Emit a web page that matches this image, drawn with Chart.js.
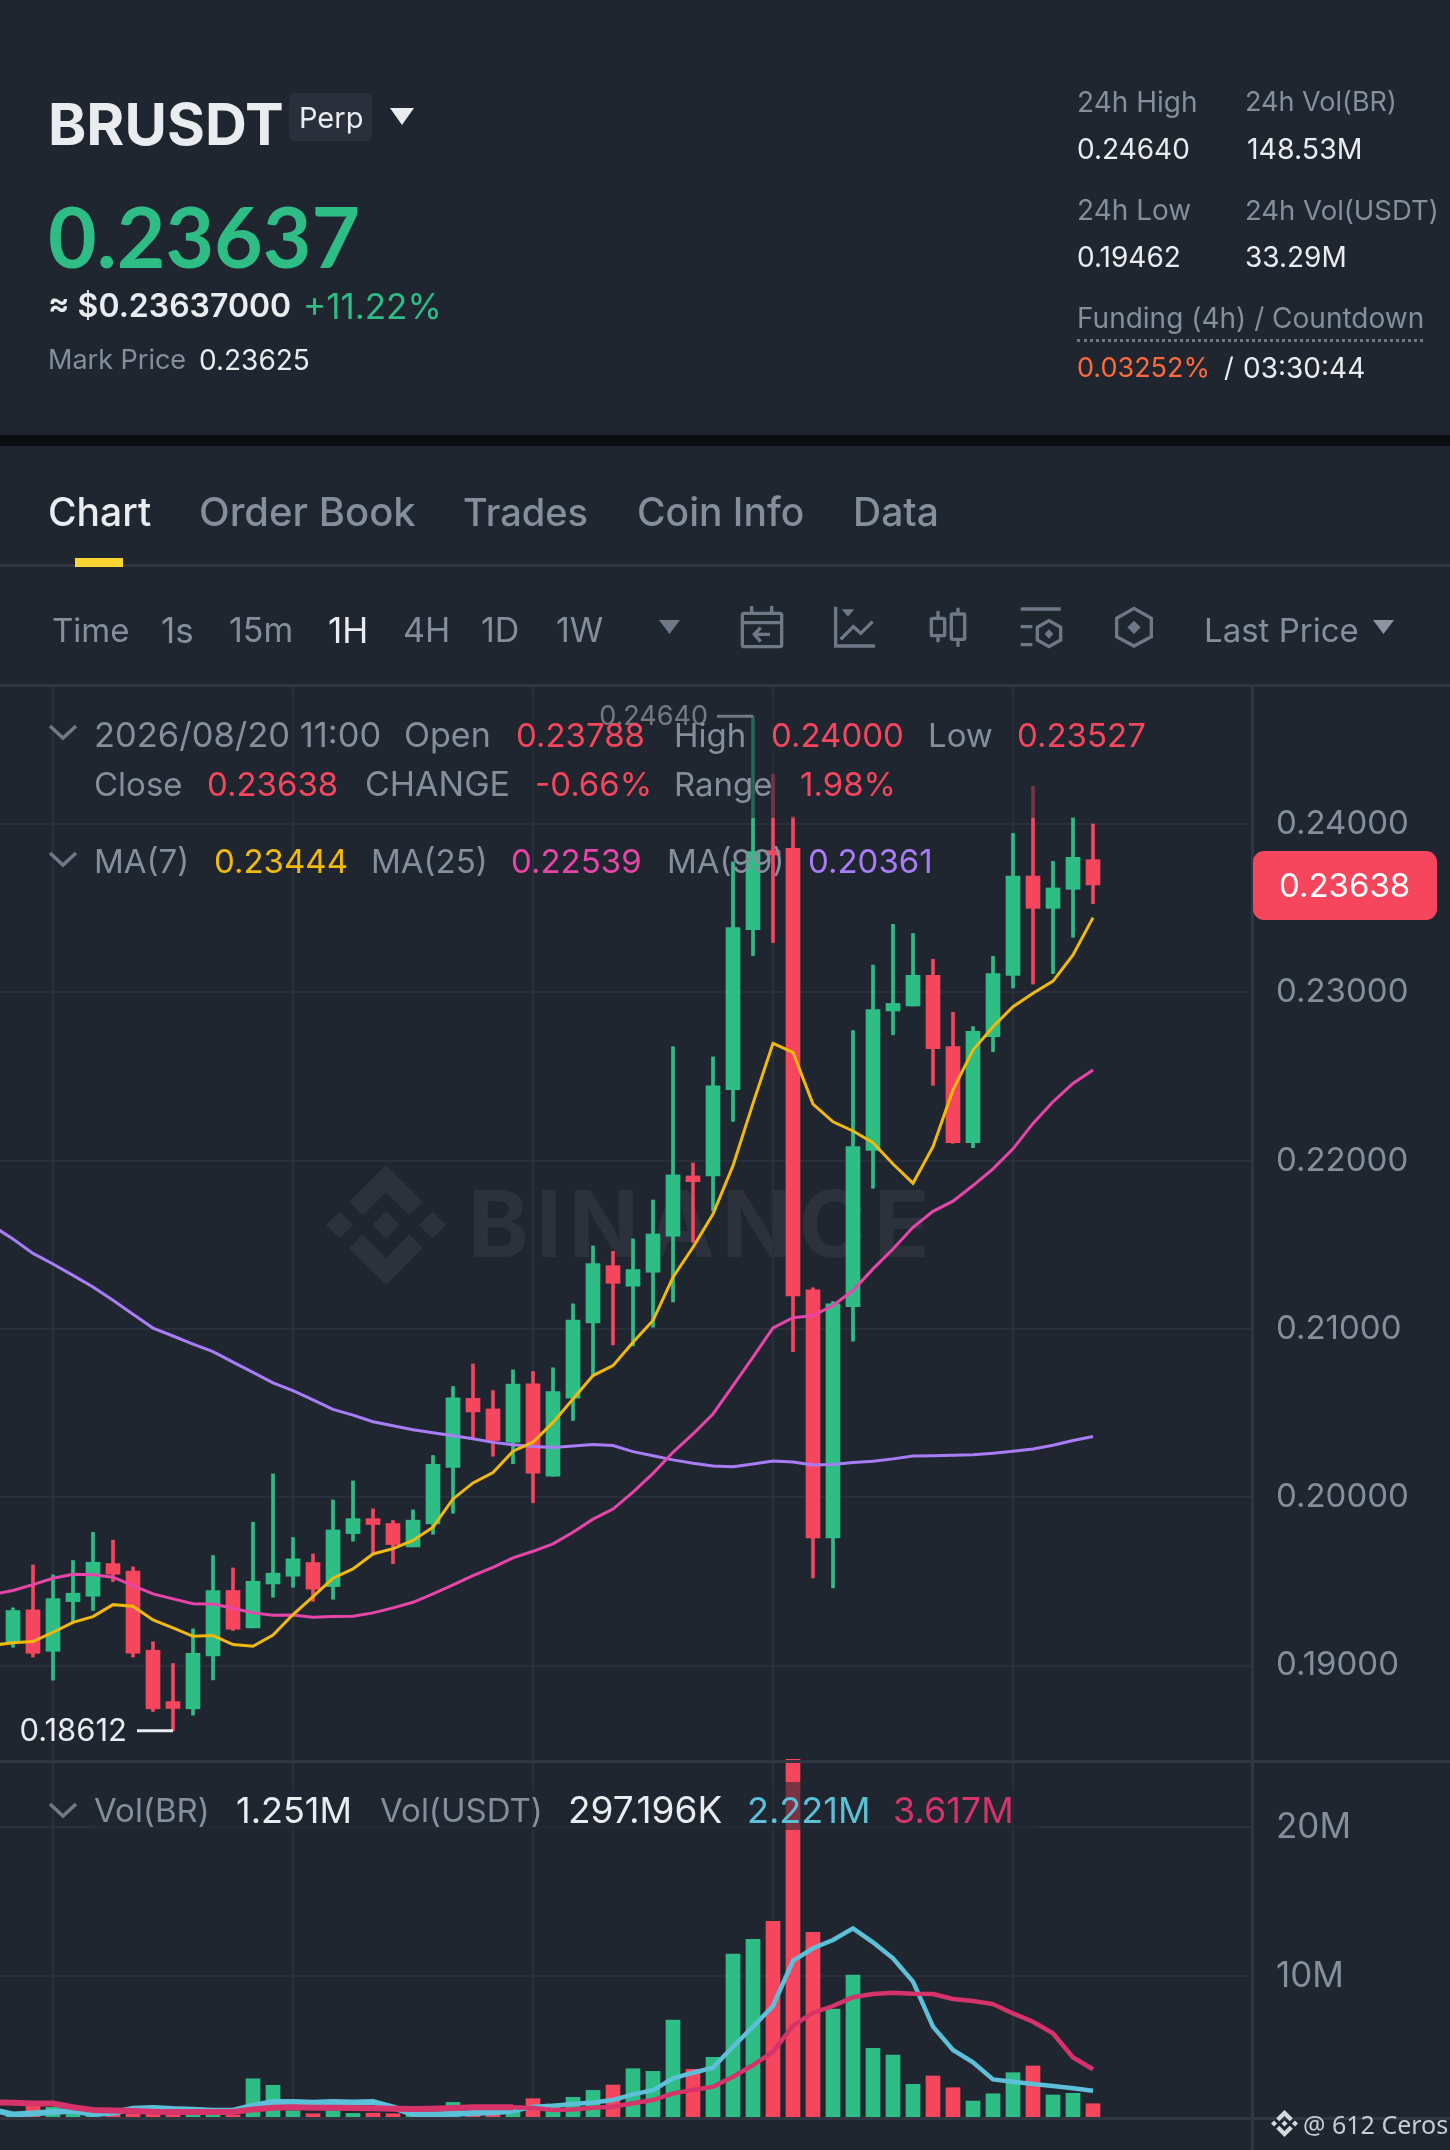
<!DOCTYPE html>
<html>
<head>
<meta charset="utf-8">
<title>BRUSDT Perp</title>
<script src="https://cdn.jsdelivr.net/npm/chart.js@4/dist/chart.umd.min.js"></script>
<style>
  html, body { margin: 0; padding: 0; background: #1f2630; }
  #page { position: relative; width: 1450px; height: 2150px; overflow: hidden; background: #1f2630; font-family: Inter, sans-serif; }
  #page > * { position: absolute; }
  .t { white-space: nowrap; line-height: 0; z-index: 5; }
  canvas { z-index: 2; }
  .rule { background: #2f3642; z-index: 3; }
  .mask { background: rgba(31, 38, 48, .58); z-index: 4; }
</style>
</head>
<body>
<div id="page">
  <div style="left:0;top:435px;width:1450px;height:11px;background:#0b0e11"></div>
  <div class="rule" style="left:0;top:564px;width:1450px;height:3px"></div>
  <div style="left:75px;top:558px;width:48px;height:9px;background:#fcd535;z-index:4"></div>
  <div style="left:289px;top:93px;width:83px;height:48px;border-radius:6px;background:#2a303b"></div>
  <div style="left:1077px;top:339px;width:346px;border-top:3px dotted #6f7887"></div>

  <div class="rule" style="left:0;top:684px;width:1450px;height:3px"></div>
  <div class="rule" style="left:1251px;top:686px;width:3px;height:1464px"></div>
  <div class="rule" style="left:0;top:1760px;width:1450px;height:3px"></div>
  <div class="rule" style="left:0;top:2117px;width:1450px;height:3px"></div>

  <!-- watermark sits under the canvas -->
  <svg style="left:326px;top:1165px;z-index:1" width="120" height="120" viewBox="0 0 126.61 126.61" fill="#2c313c">
    <path d="M38.73 53.2l24.59-24.58 24.6 24.6 14.3-14.31L63.32 0 24.43 38.9zM0 63.31l14.3-14.31 14.31 14.31-14.31 14.3zM38.73 73.41l24.59 24.59 24.6-24.6 14.31 14.29-38.9 38.91-38.91-38.88-.02-.02zM98 63.31l14.3-14.31 14.31 14.3-14.31 14.31zM77.83 63.3L63.32 48.78 52.59 59.51l-1.24 1.23-2.54 2.54 14.51 14.5 14.51-14.47z"/>
  </svg>
  <div class="t" style="left:468px;top:1224px;font-size:92px;font-weight:700;letter-spacing:7px;color:#2c313c;z-index:1">BINANCE</div>

  <canvas id="graphe-prix" width="1450" height="1075" style="left:0;top:686px"></canvas>
  <canvas id="graphe-vol" width="1450" height="363" style="left:0;top:1755px"></canvas>

  <!-- legend backgrounds dim what is under the text -->
  <div class="mask" style="left:90px;top:696px;width:1060px;height:122px"></div>
  <div class="mask" style="left:93px;top:1782px;width:944px;height:48px"></div>

  <!-- toolbar icons, svg units are 3x page pixels -->
  <svg style="left:700px;top:590px;z-index:5" width="500" height="90" viewBox="0 0 1500 270" fill="none" stroke="#6f7887" stroke-width="10">
    <rect x="127" y="70" width="118" height="100" rx="6"/><path d="M127 98H245M155 48V70M215 48V70M165 133H210M182 113L163 133L182 155"/>
    <path d="M407 50V168H525M422 148L460 110L482 130L518 95"/><path d="M425 58H463L444 80Z" fill="#6f7887" stroke="none"/>
    <rect x="694" y="85" width="40" height="52" rx="3"/><path d="M714 63V85M714 137V157"/>
    <rect x="754" y="72" width="40" height="76" rx="3"/><path d="M774 53V72M774 148V170"/>
    <path d="M962 57H1082M962 110H997M962 164H997"/><path d="M1047 92L1082 112V150L1047 170L1012 150V112Z"/><path d="M1047 118L1060 132L1047 146L1034 132Z" fill="#6f7887" stroke="none"/>
    <path d="M1302 55L1354 85V140L1302 168L1250 140V85Z"/><path d="M1302 92L1322 112L1302 132L1282 112Z" fill="#6f7887" stroke="none"/>
  </svg>
  <!-- small triangles and chevrons -->
  <svg style="left:0;top:0;z-index:5" width="1450" height="2150" fill="none">
    <path d="M390 108H414L402 125Z" fill="#eaecef"/>
    <path d="M659 620H680L669.500 634Z" fill="#6f7887"/>
    <path d="M1373 620H1394L1383.500 634Z" fill="#8d95a3"/>
    <g stroke="#6f7887" stroke-width="3.500">
      <path d="M50 726L63 738L76 726"/><path d="M50 853L63 865L76 853"/><path d="M50 1804L63 1816L76 1804"/>
    </g>
  </svg>
  <div style="left:1253px;top:851px;width:184px;height:69px;border-radius:11px;background:#f6465d;z-index:5"></div>
  <svg style="left:1271px;top:2110px;z-index:5" width="27" height="27" viewBox="0 0 126.61 126.61" fill="#d5d8dc">
    <path d="M38.73 53.2l24.59-24.58 24.6 24.6 14.3-14.31L63.32 0 24.43 38.9zM0 63.31l14.3-14.31 14.31 14.31-14.31 14.3zM38.73 73.41l24.59 24.59 24.6-24.6 14.31 14.29-38.9 38.91-38.91-38.88-.02-.02zM98 63.31l14.3-14.31 14.31 14.3-14.31 14.31zM77.83 63.3L63.32 48.78 52.59 59.51l-1.24 1.23-2.54 2.54 14.51 14.5 14.51-14.47z"/>
  </svg>
</div>

<script>
// bougies, de gauche a droite
const opens = [0.19139,0.19331,0.19085,0.19380,0.19412,0.19606,0.19561,0.19091,0.18786,0.18743,0.19057,0.19446,0.19224,0.19485,0.19531,0.19612,0.19469,0.19784,0.19873,0.19844,0.19705,0.19842,0.20178,0.20588,0.20525,0.20327,0.20674,0.20125,0.20588,0.21036,0.21376,0.21254,0.21337,0.21551,0.21909,0.21909,0.22421,0.23372,0.23842,0.23855,0.21232,0.19758,0.21133,0.22060,0.22889,0.22919,0.23101,0.22677,0.22107,0.22736,0.23101,0.23691,0.23499,0.23612,0.23788]
const highs = [0.19343,0.19598,0.19539,0.19624,0.19792,0.19745,0.19586,0.19141,0.19012,0.19218,0.19654,0.19580,0.19852,0.20139,0.19761,0.19663,0.19984,0.20097,0.19931,0.19862,0.19925,0.20248,0.20658,0.20792,0.20634,0.20757,0.20747,0.20769,0.21149,0.21493,0.21461,0.21535,0.21766,0.22677,0.21986,0.22616,0.23776,0.24640,0.24297,0.24044,0.21244,0.21162,0.22772,0.23162,0.23404,0.23350,0.23196,0.22881,0.22796,0.23214,0.23945,0.24224,0.23778,0.24040,0.24000]
const lows = [0.19109,0.19051,0.18913,0.19257,0.19327,0.19499,0.19051,0.18727,0.18612,0.18705,0.18915,0.19208,0.19224,0.19406,0.19465,0.19382,0.19394,0.19739,0.19667,0.19606,0.19705,0.19780,0.19905,0.20347,0.20244,0.20200,0.19967,0.20125,0.20456,0.20721,0.20905,0.20899,0.21010,0.21160,0.21515,0.21703,0.22233,0.23218,0.23295,0.20865,0.19521,0.19462,0.20927,0.21836,0.22748,0.22919,0.22447,0.22103,0.22077,0.22647,0.23026,0.23049,0.23111,0.23327,0.23527]
const closes = [0.19327,0.19073,0.19398,0.19430,0.19614,0.19543,0.19073,0.18743,0.18745,0.19073,0.19446,0.19216,0.19501,0.19549,0.19634,0.19454,0.19806,0.19873,0.19838,0.19719,0.19864,0.20196,0.20590,0.20507,0.20337,0.20672,0.20143,0.20628,0.21053,0.21388,0.21271,0.21353,0.21564,0.21915,0.21875,0.22445,0.23384,0.23836,0.23816,0.21196,0.19758,0.21149,0.22083,0.22897,0.22934,0.23101,0.22665,0.22107,0.22768,0.23111,0.23691,0.23499,0.23620,0.23802,0.23638]

// moyennes mobiles, elles commencent une bougie avant la premiere
const ma7 = [0.19121,0.19135,0.19143,0.19198,0.19257,0.19291,0.19362,0.19353,0.19271,0.19224,0.19174,0.19178,0.19125,0.19115,0.19182,0.19303,0.19410,0.19519,0.19574,0.19663,0.19695,0.19743,0.19822,0.19990,0.20085,0.20147,0.20274,0.20327,0.20445,0.20584,0.20723,0.20782,0.20921,0.21050,0.21307,0.21485,0.21683,0.21970,0.22340,0.22697,0.22643,0.22336,0.22231,0.22176,0.22107,0.21980,0.21866,0.22083,0.22420,0.22657,0.22796,0.22915,0.22994,0.23067,0.23222,0.23444]
const ma25 = [0.19424,0.19446,0.19481,0.19519,0.19543,0.19539,0.19525,0.19475,0.19426,0.19396,0.19368,0.19366,0.19341,0.19313,0.19299,0.19301,0.19287,0.19291,0.19293,0.19313,0.19343,0.19376,0.19426,0.19479,0.19535,0.19584,0.19640,0.19679,0.19723,0.19792,0.19870,0.19930,0.20030,0.20142,0.20267,0.20376,0.20495,0.20663,0.20832,0.21006,0.21067,0.21079,0.21139,0.21228,0.21357,0.21475,0.21604,0.21699,0.21759,0.21852,0.21951,0.22070,0.22221,0.22350,0.22459,0.22539]
const ma99 = [0.21611,0.21534,0.21449,0.21386,0.21318,0.21249,0.21170,0.21087,0.21005,0.20958,0.20910,0.20865,0.20803,0.20742,0.20680,0.20633,0.20578,0.20522,0.20488,0.20449,0.20425,0.20401,0.20383,0.20365,0.20348,0.20326,0.20312,0.20302,0.20296,0.20304,0.20313,0.20307,0.20271,0.20247,0.20222,0.20202,0.20186,0.20182,0.20198,0.20216,0.20210,0.20192,0.20194,0.20206,0.20214,0.20228,0.20245,0.20247,0.20249,0.20253,0.20261,0.20273,0.20287,0.20309,0.20337,0.20361]

// volumes en millions
const volumes = [0.64,1.25,1.16,0.77,0.77,0.77,0.71,0.71,0.64,0.64,0.64,0.64,3.08,2.64,0.93,0.73,0.93,0.75,0.77,0.73,0.64,0.64,1.49,0.69,0.71,0.84,1.74,1.38,1.83,2.30,2.66,3.76,3.58,7.04,3.72,4.53,11.48,12.47,13.68,24.59,12.94,7.78,10.07,5.13,4.68,2.71,3.27,2.48,1.58,2.07,3.49,3.94,1.99,2.10,1.40]
const volMa1 = [0.98,0.68,0.75,0.84,0.93,0.71,0.80,1.07,1.11,1.04,1.00,0.93,0.93,1.27,1.52,1.52,1.47,1.52,1.49,1.52,1.16,0.71,0.68,0.73,0.77,0.82,0.91,1.20,1.27,1.38,1.49,1.65,2.03,2.32,3.11,3.49,3.83,5.24,6.59,7.98,11.02,11.87,12.42,13.21,12.27,11.19,9.62,6.59,5.02,4.19,3.04,2.88,2.73,2.59,2.44,2.28]
const volMa2 = [1.49,1.47,1.42,1.42,1.16,0.98,0.95,0.91,0.86,0.84,0.84,0.84,0.84,1.02,1.13,1.16,1.13,1.13,1.11,1.09,1.07,1.04,1.07,1.11,1.16,1.16,1.16,1.11,0.98,1.02,1.13,1.20,1.43,1.65,2.10,2.32,2.55,3.22,4.00,4.90,6.66,7.53,7.98,8.57,8.79,8.88,8.81,8.79,8.45,8.32,8.11,7.48,6.92,6.14,4.52,3.72]

const priceTicks = [0.19, 0.20, 0.21, 0.22, 0.23, 0.24]
const volTicks = [10, 20]
const gridCandles = [2, 14, 26, 38, 50]

const vert = '#2ebd85'
const rouge = '#f6465d'
const gris = '#848e9c'
const blanc = '#eaecef'

// textes de l'entete et des legendes : x, centre y, texte, couleur, taille, graisse
const textes = [
  [48, 124, 'BRUSDT', blanc, 58, 700],
  [299, 118, 'Perp', blanc, 29, 400],
  [48, 236, '0.23637', vert, 84, 700],
  [48, 306, '≈ $0.23637000', blanc, 32, 600],
  [303, 306, '+11.22%', vert, 35, 400],
  [48, 360, 'Mark Price', gris, 27, 400],
  [199, 360, '0.23625', blanc, 28, 400],
  [1077, 102, '24h High', gris, 28, 400],
  [1245, 102, '24h Vol(BR)', gris, 27, 400],
  [1077, 149, '0.24640', blanc, 28, 400],
  [1247, 149, '148.53M', blanc, 28.500, 400],
  [1077, 210, '24h Low', gris, 28, 400],
  [1245, 210, '24h Vol(USDT)', gris, 27.500, 400],
  [1077, 257, '0.19462', blanc, 28, 400],
  [1245, 257, '33.29M', blanc, 28, 400],
  [1077, 318, 'Funding (4h) / Countdown', gris, 28, 400],
  [1077, 368, '0.03252%', '#ff6a3d', 27, 400],
  [1224, 368, '/', blanc, 27, 400],
  [1243, 368, '03:30:44', blanc, 28, 400],
  [48, 512, 'Chart', blanc, 39, 500],
  [199, 512, 'Order Book', gris, 40, 500],
  [463, 512, 'Trades', gris, 38, 500],
  [637, 512, 'Coin Info', gris, 39, 500],
  [853, 512, 'Data', gris, 39, 500],
  [52, 630, 'Time', gris, 33, 400],
  [161, 630, '1s', gris, 35, 400],
  [229, 630, '15m', gris, 34, 400],
  [328, 630, '1H', blanc, 35, 400],
  [403, 630, '4H', gris, 34, 400],
  [481, 630, '1D', gris, 34, 400],
  [556, 630, '1W', gris, 34, 400],
  [1204, 630, 'Last Price', gris, 33, 400],
  [94, 735, '2026/08/20 11:00', gris, 34.500, 400],
  [404, 735, 'Open', gris, 34, 400],
  [516, 735, '0.23788', rouge, 33, 400],
  [674, 735, 'High', gris, 33, 400],
  [771, 735, '0.24000', rouge, 33, 400],
  [928, 735, 'Low', gris, 33, 400],
  [1017, 735, '0.23527', rouge, 33, 400],
  [94, 784, 'Close', gris, 33, 400],
  [207, 784, '0.23638', rouge, 33, 400],
  [365, 784, 'CHANGE', gris, 34, 400],
  [535, 784, '-0.66%', rouge, 33, 400],
  [674, 784, 'Range', gris, 33, 400],
  [800, 784, '1.98%', rouge, 33, 400],
  [94, 861, 'MA(7)', gris, 33, 400],
  [214, 861, '0.23444', '#f0b90b', 33, 400],
  [371, 861, 'MA(25)', gris, 33, 400],
  [511, 861, '0.22539', '#e845aa', 33, 400],
  [667, 861, 'MA(99)', gris, 33, 400],
  [808, 861, '0.20361', '#a97cf8', 33, 400],
  [1279, 885, '0.23638', '#ffffff', 33, 400],
  [94, 1810, 'Vol(BR)', gris, 33, 400],
  [236, 1810, '1.251M', blanc, 36, 400],
  [380, 1810, 'Vol(USDT)', gris, 33, 400],
  [568, 1810, '297.196K', blanc, 37, 400],
  [747, 1810, '2.221M', '#5bc0d8', 36, 400],
  [893, 1810, '3.617M', '#d5336a', 36, 400],
  [1303, 2124, '@ 612 Ceros', '#c9cdd2', 25, 400]
]

const page = document.getElementById('page')
for (const [x, y, str, couleur, taille, graisse] of textes) {
  const el = document.createElement('div')
  el.className = 't'
  el.textContent = str
  el.style.cssText = `left:${x}px;top:${y}px;color:${couleur};font-size:${taille}px;font-weight:${graisse}`
  if (str === '@ 612 Ceros') el.style.fontFamily = '"Noto Sans"'
  if (str === '0.23637') el.style.fontFamily = 'Lato'
  page.appendChild(el)
}

// une bougie d'indice i est en x = i, les moyennes commencent a -1
const couleurs = closes.map((c, i) => c >= opens[i] ? vert : rouge)
const enPoints = serie => serie.map((v, i) => ({ x: i - 1, y: v }))
const grilleX = {
  type: 'linear', min: -0.65, max: 61.95, offset: false,
  afterBuildTicks: s => { s.ticks = gridCandles.map(v => ({ value: v })) },
  ticks: { display: false },
  border: { display: false },
  grid: { color: '#2a303b', lineWidth: 2, drawTicks: false, offset: false }
}
const axeY = (min, max, valeurs, format, taille) => ({
  position: 'right', min: min, max: max,
  afterBuildTicks: s => { s.ticks = valeurs.map(v => ({ value: v })) },
  afterFit: s => { s.width = 198; s.paddingTop = 0; s.paddingBottom = 0 },
  ticks: { color: gris, padding: 24, font: { family: 'Inter', size: taille }, callback: format },
  border: { display: false },
  grid: { color: '#2a303b', lineWidth: 2, drawTicks: false }
})
const ligne = (serie, couleur, largeur, ordre) => ({
  type: 'line', data: enPoints(serie), borderColor: couleur, borderWidth: largeur,
  pointRadius: 0, tension: 0, fill: false, order: ordre
})
// les moyennes de volume sont plus epaisses sur la partie gauche
const ligneVol = (serie, couleur, ordre) => ({
  ...ligne(serie, couleur, 4.5, ordre),
  segment: { borderWidth: c => c.p0DataIndex < 26 ? 6 : 4.5 }
})

// plus haut et plus bas marques sur le graphique
const reperes = {
  id: 'reperes',
  afterDatasetsDraw (chart) {
    const { ctx, scales } = chart
    const hi = scales.y.getPixelForValue(0.24640)
    const lo = scales.y.getPixelForValue(0.18612)
    ctx.save()
    ctx.textBaseline = 'middle'
    ctx.fillStyle = blanc
    ctx.strokeStyle = blanc
    ctx.lineWidth = 3
    ctx.textAlign = 'right'
    ctx.font = '27px Inter'
    ctx.fillText('0.24640', 708, hi + 1)
    ctx.font = '31px Inter'
    ctx.fillText('0.18612', 127, lo + 1)
    ctx.beginPath()
    ctx.moveTo(717, hi); ctx.lineTo(scales.x.getPixelForValue(37), hi)
    ctx.moveTo(137, lo); ctx.lineTo(scales.x.getPixelForValue(8), lo)
    ctx.stroke()
    ctx.restore()
  }
}

new Chart(document.getElementById('graphe-prix'), {
  type: 'bar',
  data: {
    datasets: [
      ligne(ma7, '#f0b90b', 3, 0),
      ligne(ma25, '#e845aa', 3, 1),
      ligne(ma99, '#a97cf8', 3, 2),
      {
        data: opens.map((o, i) => ({ x: i, y: [o, closes[i]] })),
        backgroundColor: couleurs, barThickness: 14, grouped: false, order: 3
      },
      {
        data: lows.map((l, i) => ({ x: i, y: [l, highs[i]] })),
        backgroundColor: couleurs, barThickness: 3, grouped: false, order: 4
      }
    ]
  },
  options: {
    responsive: false,
    animation: false,
    devicePixelRatio: 1,
    layout: { padding: 0 },
    plugins: { legend: { display: false }, tooltip: { enabled: false } },
    scales: {
      x: grilleX,
      y: axeY(0.18433, 0.24820, priceTicks, v => v.toFixed(5), 33)
    }
  },
  plugins: [reperes]
})

new Chart(document.getElementById('graphe-vol'), {
  type: 'bar',
  data: {
    datasets: [
      ligneVol(volMa1, '#5bc0d8', 1),
      ligneVol(volMa2, '#d5336a', 0),
      {
        data: volumes.map((v, i) => ({ x: i, y: v })),
        backgroundColor: couleurs, barThickness: 14, grouped: false, order: 2
      }
    ]
  },
  options: {
    responsive: false,
    animation: false,
    devicePixelRatio: 1,
    layout: { padding: 0 },
    plugins: { legend: { display: false }, tooltip: { enabled: false } },
    scales: {
      x: grilleX,
      y: axeY(0.44, 24.88, volTicks, v => v + 'M', 35)
    }
  }
})
</script>
</body>
</html>
